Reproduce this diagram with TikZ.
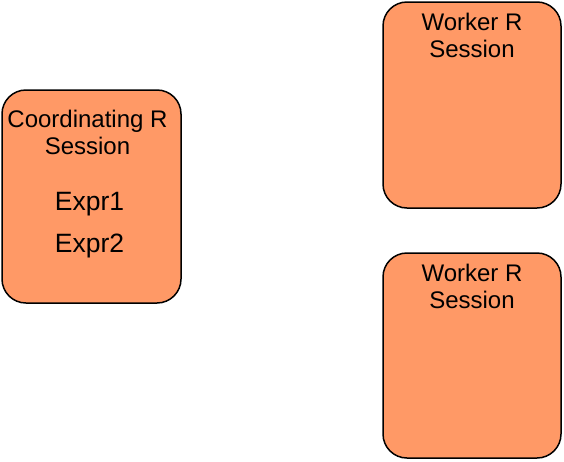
\documentclass[tikz,border=0pt]{standalone}
\usepackage{fontspec}
\setmainfont{Liberation Sans}
\usetikzlibrary{positioning}
\definecolor{sessorange}{RGB}{255,153,102}

\begin{document}
\begin{tikzpicture}[
  x=1pt, y=-1pt,
  session/.style={draw, line width=1.5pt, fill=sessorange, rounded corners=24pt, inner sep=0pt},
  ttl/.style={font=\fontsize{24}{27}\selectfont, align=center, inner sep=0pt, anchor=north},
  expr/.style={font=\fontsize{26.5}{42}\selectfont, align=center, inner sep=0pt, anchor=north}
]
\useasboundingbox (0,0) rectangle (564,461);

% Sessions
\node[session, minimum width=179pt, minimum height=213pt] (coord) at (91.5, 196.5) {};
\node[session, minimum width=178pt, minimum height=206pt] (worka) at (472, 105) {};
\node[session, minimum width=178pt, minimum height=205pt] (workb) at (472, 355.5) {};

% Titles
\node[ttl, below=21pt of coord.north, xshift=-4pt] (coordttl) {Coordinating R\\Session};
\node[ttl, below=12pt of worka.north] (workattl) {Worker R\\Session};
\node[ttl, below=12pt of workb.north] (workbttl) {Worker R\\Session};

% Expressions
\node[expr, below=37pt of coordttl.south, xshift=2pt] (exprs) {Expr1\\Expr2};

\end{tikzpicture}
\end{document}
